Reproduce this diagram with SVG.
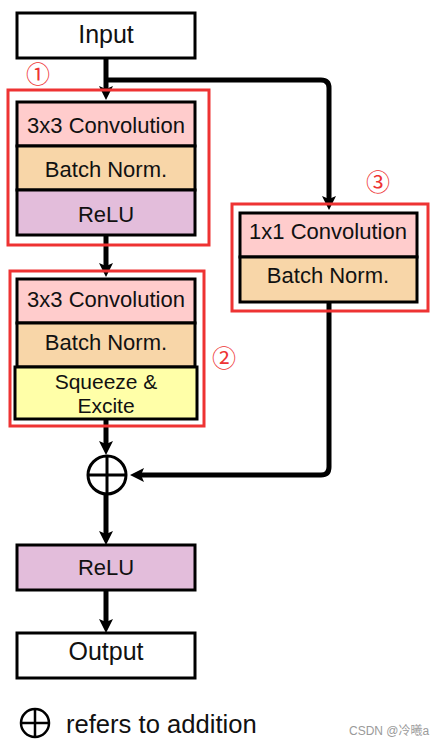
<svg xmlns="http://www.w3.org/2000/svg" width="445" height="747" viewBox="0 0 445 747">
<style>
.box{stroke:#000;stroke-width:3}
.t{font-family:"Liberation Sans",Arial,sans-serif;font-size:22px;fill:#111;text-anchor:middle}
.big{font-size:25px}
.se2{font-size:21px}
.red{fill:none;stroke:#ee3333;stroke-width:3}
.num{font-family:"Noto Sans CJK SC","DejaVu Sans",sans-serif;font-size:24px;fill:#ee3333;text-anchor:middle}
.conv{fill:#ffcccc}.bn{fill:#f8d6a8}.relu{fill:#e3bddb}.se{fill:#ffffa8}
.c{fill:none;stroke:#000;stroke-width:5;stroke-linejoin:round}
</style>
<defs>
<marker id="ah" viewBox="0 0 14 14" refX="4" refY="7" markerWidth="14" markerHeight="14" markerUnits="userSpaceOnUse" orient="auto">
<path d="M0,0 L14,7 L0,14 L3,7 z" fill="#000"/>
</marker>
</defs>
<rect width="445" height="747" fill="#fff"/>
<g id="connectors">
<path class="c" d="M106,58 V90" marker-end="url(#ah)"/>
<path class="c" d="M106,80 H321 Q329,80 329,88 V200" marker-end="url(#ah)"/>
<path class="c" d="M106,235 V267" marker-end="url(#ah)"/>
<path class="c" d="M106,419 V445" marker-end="url(#ah)"/>
<path class="c" d="M329,302 V467 Q329,475 321,475 H140" marker-end="url(#ah)"/>
<path class="c" d="M106,495 V535" marker-end="url(#ah)"/>
<path class="c" d="M106,590 V623" marker-end="url(#ah)"/>
</g>
<g id="input">
<rect class="box" x="17" y="13" width="178" height="45" fill="#fff"/>
<text class="t big" x="106" y="43">Input</text>
</g>
<g id="block1">
<rect class="red" x="8" y="90" width="201" height="155"/>
<rect class="box conv" x="17" y="102" width="178" height="44"/>
<text class="t" x="106" y="133">3x3 Convolution</text>
<rect class="box bn" x="17" y="146" width="178" height="44"/>
<text class="t" x="106" y="177">Batch Norm.</text>
<rect class="box relu" x="17" y="190" width="178" height="45"/>
<text class="t" x="106" y="222">ReLU</text>
<text class="num" x="38" y="83">①</text>
</g>
<g id="block2">
<rect class="red" x="10" y="271" width="194" height="155"/>
<rect class="box conv" x="17" y="279" width="178" height="44"/>
<text class="t" x="106" y="307">3x3 Convolution</text>
<rect class="box bn" x="17" y="323" width="178" height="44"/>
<text class="t" x="106" y="350">Batch Norm.</text>
<rect class="box se" x="15" y="367" width="182" height="52"/>
<text class="t se2" x="106" y="389">Squeeze &amp;</text>
<text class="t se2" x="106" y="413">Excite</text>
<text class="num" x="224" y="367">②</text>
</g>
<g id="block3">
<rect class="red" x="232" y="204" width="196" height="107"/>
<rect class="box conv" x="240" y="213" width="177" height="44"/>
<text class="t" x="328" y="239">1x1 Convolution</text>
<rect class="box bn" x="240" y="257" width="177" height="45"/>
<text class="t" x="328" y="283">Batch Norm.</text>
<text class="num" x="378" y="191">③</text>
</g>
<g id="add">
<circle cx="107" cy="475" r="19" fill="#fff" stroke="#000" stroke-width="3"/>
<path d="M88,475 H126 M107,456 V494" stroke="#000" stroke-width="3"/>
</g>
<g id="relu2">
<rect class="box relu" x="17" y="545" width="178" height="45"/>
<text class="t" x="106" y="575">ReLU</text>
</g>
<g id="output">
<rect class="box" x="17" y="633" width="178" height="45" fill="#fff"/>
<text class="t big" x="106" y="660">Output</text>
</g>
<g id="legend">
<circle cx="35" cy="723" r="14" fill="none" stroke="#000" stroke-width="2.5"/>
<path d="M21,723 H49 M35,709 V737" stroke="#000" stroke-width="2.5"/>
<text x="66" y="733" font-family="Liberation Sans, Arial, sans-serif" font-size="25.6" fill="#111">refers to addition</text>
<text x="349" y="735" font-family="Liberation Sans, 'Noto Sans CJK SC', sans-serif" font-size="12" fill="#9a9a9a">CSDN @冷曦a</text>
</g>
</svg>
